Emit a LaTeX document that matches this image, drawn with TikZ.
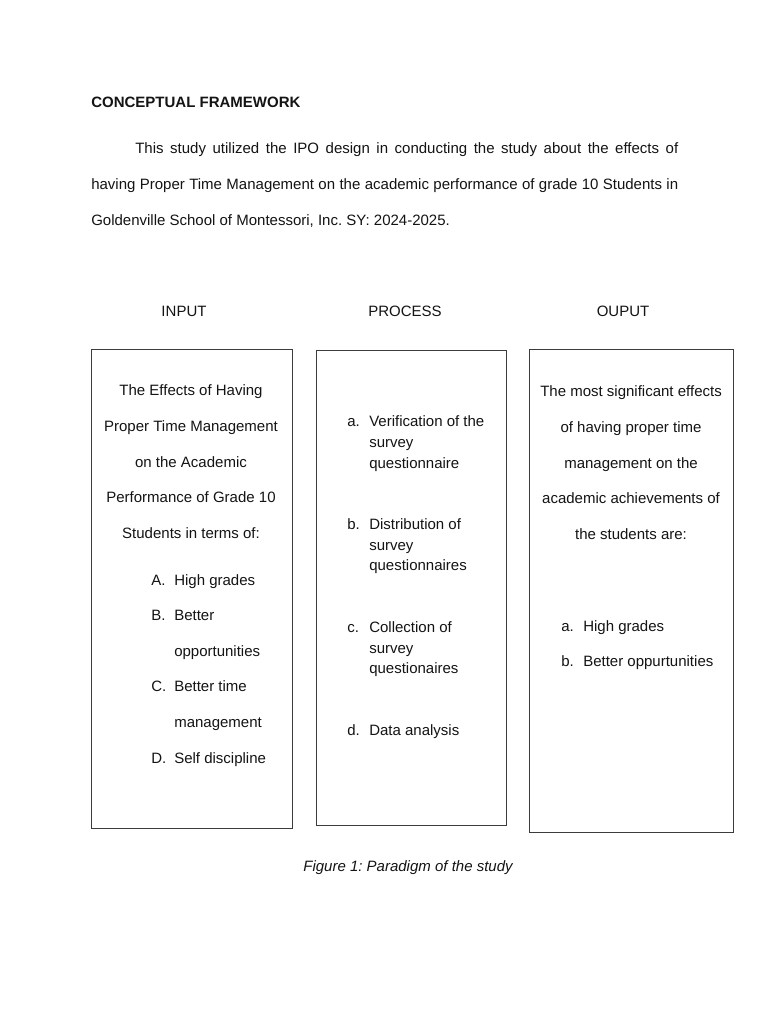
\documentclass[tikz,border=0pt]{standalone}
\usepackage{fontspec}
\setmainfont{Liberation Sans}
\usepackage{tikz}
\usetikzlibrary{positioning}
\usepackage{xcolor}
\definecolor{pageink}{RGB}{20,20,20}
\definecolor{boxline}{RGB}{60,60,60}
\newlength\pxu
\setlength\pxu{0.2811mm}
\frenchspacing
\tikzstyle{ipobox} = [line width=0.6pt,color=boxline]
\tikzstyle{txt} = [anchor=mid,inner sep=0pt,text=pageink,yshift=-2.5\pxu]
\tikzstyle{txtl} = [anchor=mid west,inner sep=0pt,text=pageink,yshift=-2.5\pxu]

\begin{document}
\begin{tikzpicture}[x=0.2811mm, y=-0.2811mm, font=\fontsize{12pt}{14pt}\selectfont]
\useasboundingbox[fill=white] (0,0) rectangle (768,1024);

% Heading and introduction
\node[txtl, font=\fontsize{12pt}{14pt}\selectfont\bfseries] (title) at (91,102) {CONCEPTUAL FRAMEWORK};
\node[txtl] (intro1) at (135,148) {\makebox[543\pxu][s]{This study utilized the IPO design in conducting the study about the effects of}};
\node[txtl] (intro2) at (91,184) {\makebox[587\pxu][s]{having Proper Time Management on the academic performance of grade 10 Students in}};
\node[txtl] (intro3) at (91,220) {Goldenville School of Montessori, Inc. SY: 2024-2025.};

% Column headings
\node[txt] (hin) at (184,311) {INPUT};
\node[txt] (hproc) at (405,311) {PROCESS};
\node[txt] (hout) at (623,311) {OUPUT};

% The three boxes
\draw[ipobox] (91,349) rectangle (292,828);
\draw[ipobox] (316,350) rectangle (506,825);
\draw[ipobox] (529,349) rectangle (733,832);

% Input box
\node[txt] (in1) at (191,390) {The Effects of Having};
\node[txt] (in2) at (191,426) {Proper Time Management};
\node[txt] (in3) at (191,462) {on the Academic};
\node[txt] (in4) at (191,497) {Performance of Grade 10};
\node[txt] (in5) at (191,533) {Students in terms of:};
\node[txtl] (ina) at (151,580) {A.};
\node[txtl] (inat) at (174,580) {High grades};
\node[txtl] (inb) at (151,615) {B.};
\node[txtl] (inbt) at (174,615) {Better};
\node[txtl] (inbu) at (174,651) {opportunities};
\node[txtl] (inc) at (151,686) {C.};
\node[txtl] (inct) at (174,686) {Better time};
\node[txtl] (incu) at (174,722) {management};
\node[txtl] (ind) at (151,758) {D.};
\node[txtl] (indt) at (174,758) {Self discipline};

% Process box
\node[txtl] (pa) at (347,421) {a.};
\node[txtl] (pat) at (369,421) {Verification of the};
\node[txtl] (pau) at (369,442) {survey};
\node[txtl] (pav) at (369,463) {questionnaire};
\node[txtl] (pb) at (347,524) {b.};
\node[txtl] (pbt) at (369,524) {Distribution of};
\node[txtl] (pbu) at (369,545) {survey};
\node[txtl] (pbv) at (369,565) {questionnaires};
\node[txtl] (pc) at (347,627) {c.};
\node[txtl] (pct) at (369,627) {Collection of};
\node[txtl] (pcu) at (369,648) {survey};
\node[txtl] (pcv) at (369,668) {questionaires};
\node[txtl] (pd) at (347,730) {d.};
\node[txtl] (pdt) at (369,730) {Data analysis};

% Output box
\node[txt] (out1) at (631,391) {The most significant effects};
\node[txt] (out2) at (631,427) {of having proper time};
\node[txt] (out3) at (631,463) {management on the};
\node[txt] (out4) at (631,498) {academic achievements of};
\node[txt] (out5) at (631,534) {the students are:};
\node[txtl] (oa) at (561,626) {a.};
\node[txtl] (oat) at (583,626) {High grades};
\node[txtl] (ob) at (561,661) {b.};
\node[txtl] (obt) at (583,661) {Better oppurtunities};

% Caption
\node[txt, font=\fontsize{12pt}{14pt}\selectfont\itshape] (caption) at (408,866) {Figure 1: Paradigm of the study};
\end{tikzpicture}
\end{document}
